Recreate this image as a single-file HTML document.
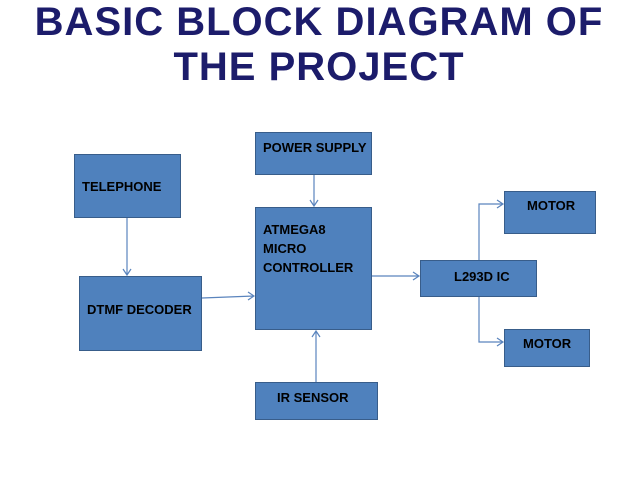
<!DOCTYPE html>
<html><head><style>
body{margin:0;width:638px;height:478px;background:#fff;overflow:hidden;position:relative;font-family:"Liberation Sans",sans-serif}
.t{position:absolute;left:0;width:638px;text-align:center;color:#1c1c6b;font-weight:bold;font-size:40px;letter-spacing:1px;line-height:44px}
.b{position:absolute;background:#4f81bd;border:1.5px solid #385d8a;box-sizing:border-box;font-weight:bold;font-size:13px;color:#000;line-height:19px}
</style></head><body>
<div class="t" style="top:0">BASIC BLOCK DIAGRAM OF</div>
<div class="t" style="top:45px">THE PROJECT</div>
<div class="b" style="left:74px;top:154px;width:107px;height:64px;padding:22px 0 0 7px">TELEPHONE</div>
<div class="b" style="left:255px;top:132px;width:117px;height:43px;padding:5px 0 0 7px">POWER SUPPLY</div>
<div class="b" style="left:255px;top:207px;width:117px;height:123px;padding:12px 0 0 7px">ATMEGA8<br>MICRO<br>CONTROLLER</div>
<div class="b" style="left:79px;top:276px;width:123px;height:75px;padding:23px 0 0 7px">DTMF DECODER</div>
<div class="b" style="left:255px;top:382px;width:123px;height:38px;padding:5px 0 0 21px">IR SENSOR</div>
<div class="b" style="left:420px;top:260px;width:117px;height:37px;padding:6px 0 0 33px">L293D IC</div>
<div class="b" style="left:504px;top:191px;width:92px;height:43px;padding:4px 0 0 22px">MOTOR</div>
<div class="b" style="left:504px;top:329px;width:86px;height:38px;padding:4px 0 0 18px">MOTOR</div>
<svg width="638" height="478" style="position:absolute;left:0;top:0" fill="none" stroke="#5a84bd" stroke-width="1.2">
<path d="M127 218V275M123 269L127 275L131 269"/>
<path d="M314 175V206M310 200L314 206L318 200"/>
<path d="M316 382V331M312 337L316 331L320 337"/>
<path d="M202 298L254 296M248 292L254 296L248 300"/>
<path d="M372 276H419M413 272L419 276L413 280"/>
<path d="M479 260V204H503M497 200L503 204L497 208"/>
<path d="M479 297V342H503M497 338L503 342L497 346"/>
</svg>
</body></html>
